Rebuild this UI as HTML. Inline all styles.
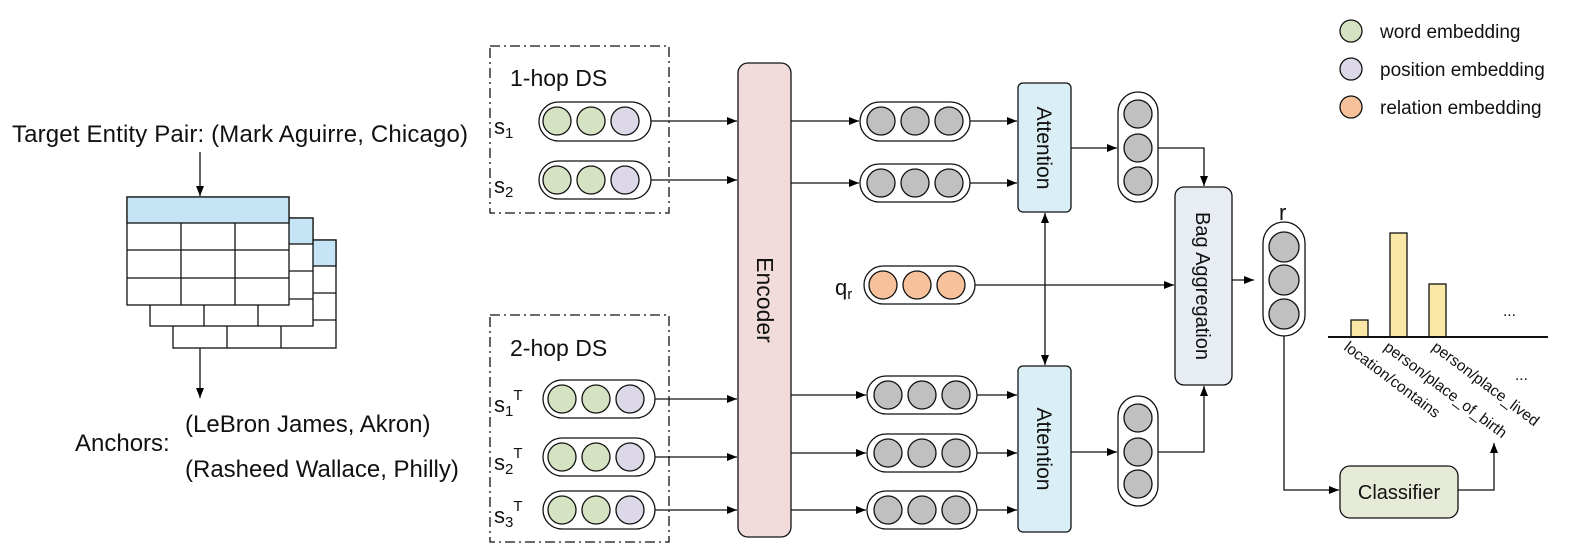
<!DOCTYPE html>
<html><head><meta charset="utf-8"><style>body{margin:0;background:#fff}svg{display:block}text{font-family:"Liberation Sans",sans-serif;fill:#111}</style></head><body>
<svg width="1578" height="554" viewBox="0 0 1578 554" xmlns="http://www.w3.org/2000/svg">
<defs><marker id="a" markerWidth="10" markerHeight="8" refX="10" refY="4" orient="auto" markerUnits="userSpaceOnUse"><path d="M0,0L10,4L0,8z" fill="#000"/></marker>
<marker id="b" markerWidth="10" markerHeight="8" refX="10" refY="4" orient="auto-start-reverse" markerUnits="userSpaceOnUse"><path d="M0,0L10,4L0,8z" fill="#000"/></marker></defs>
<g stroke="#111" stroke-width="1.3" fill="none">
<line x1="200" y1="152" x2="200" y2="196" marker-end="url(#a)"/>
<rect x="173" y="240" width="163" height="108" fill="#fff"/><rect x="173" y="240" width="163" height="26" fill="#c5e4f5"/>
<path d="M173,293H336M173,320H336M227,320V348M281,320V348"/>
<rect x="150" y="218" width="163" height="108" fill="#fff"/><rect x="150" y="218" width="163" height="26" fill="#c5e4f5"/>
<path d="M150,271H313M150,299H313M204,299V326M258,299V326"/>
<rect x="127" y="197" width="162" height="108" fill="#fff"/><rect x="127" y="197" width="162" height="26" fill="#c5e4f5"/>
<path d="M127,250H289M127,278H289M181,223V305M235,223V305"/>
<line x1="200" y1="348" x2="200" y2="398" marker-end="url(#a)"/>
<rect x="490" y="46" width="179" height="167" stroke-dasharray="10,4,2,4"/>
<rect x="490" y="315" width="179" height="227" stroke-dasharray="10,4,2,4"/>
<rect x="738" y="63" width="53" height="474" rx="10" fill="#f2dcdb"/>
<line x1="651" y1="121" x2="737" y2="121" marker-end="url(#a)"/>
<line x1="651" y1="180" x2="737" y2="180" marker-end="url(#a)"/>
<line x1="655" y1="399" x2="737" y2="399" marker-end="url(#a)"/>
<line x1="655" y1="457" x2="737" y2="457" marker-end="url(#a)"/>
<line x1="655" y1="510" x2="737" y2="510" marker-end="url(#a)"/>
<line x1="791" y1="121" x2="859" y2="121" marker-end="url(#a)"/>
<line x1="791" y1="183" x2="859" y2="183" marker-end="url(#a)"/>
<line x1="791" y1="395" x2="866" y2="395" marker-end="url(#a)"/>
<line x1="791" y1="453" x2="866" y2="453" marker-end="url(#a)"/>
<line x1="791" y1="510" x2="866" y2="510" marker-end="url(#a)"/>
<line x1="970" y1="121" x2="1017" y2="121" marker-end="url(#a)"/>
<line x1="970" y1="183" x2="1017" y2="183" marker-end="url(#a)"/>
<line x1="977" y1="395" x2="1017" y2="395" marker-end="url(#a)"/>
<line x1="977" y1="453" x2="1017" y2="453" marker-end="url(#a)"/>
<line x1="977" y1="510" x2="1017" y2="510" marker-end="url(#a)"/>
<rect x="1018" y="83" width="53" height="129" rx="5" fill="#daeef5"/>
<rect x="1018" y="366" width="53" height="166" rx="5" fill="#daeef5"/>
<line x1="1045" y1="213" x2="1045" y2="365" marker-start="url(#b)" marker-end="url(#b)"/>
<line x1="975" y1="285" x2="1174" y2="285" marker-end="url(#a)"/>
<line x1="1071" y1="148" x2="1117" y2="148" marker-end="url(#a)"/>
<line x1="1071" y1="452" x2="1117" y2="452" marker-end="url(#a)"/>
<path d="M1158,148H1204V186" marker-end="url(#a)"/>
<path d="M1158,452H1204V386" marker-end="url(#a)"/>
<rect x="1175" y="187" width="57" height="198" rx="9" fill="#e8edf4"/>
<line x1="1232" y1="280" x2="1254" y2="280" marker-end="url(#a)"/>
<path d="M1284,336V490H1339" marker-end="url(#a)"/>
<rect x="1340" y="466" width="118" height="52" rx="10" fill="#e5ebd7"/>
<path d="M1458,490H1494V443" marker-end="url(#a)"/>
<rect x="1351" y="320" width="17" height="17" fill="#fbe8a6"/>
<rect x="1390" y="233" width="17" height="104" fill="#fbe8a6"/>
<rect x="1429" y="284" width="17" height="53" fill="#fbe8a6"/>
<line x1="1328" y1="337" x2="1548" y2="337" stroke-width="2"/>
<rect x="539" y="102" width="112" height="39" rx="19.5" fill="#fff"/>
<rect x="539" y="161" width="112" height="38" rx="19" fill="#fff"/>
<rect x="543" y="380" width="112" height="38" rx="19" fill="#fff"/>
<rect x="543" y="438" width="112" height="38" rx="19" fill="#fff"/>
<rect x="543" y="491" width="112" height="38" rx="19" fill="#fff"/>
<rect x="860" y="102" width="110" height="39" rx="19.5" fill="#fff"/>
<rect x="860" y="164" width="110" height="38" rx="19" fill="#fff"/>
<rect x="864" y="266" width="111" height="38" rx="19" fill="#fff"/>
<rect x="867" y="376" width="110" height="38" rx="19" fill="#fff"/>
<rect x="867" y="434" width="110" height="38" rx="19" fill="#fff"/>
<rect x="867" y="491" width="110" height="38" rx="19" fill="#fff"/>
<rect x="1118" y="92" width="40" height="110" rx="20" fill="#fff"/>
<rect x="1118" y="396" width="40" height="110" rx="20" fill="#fff"/>
<rect x="1263" y="222" width="42" height="114" rx="21" fill="#fff"/>
<g fill="#d5e3c2">
<circle cx="557" cy="121" r="14"/><circle cx="591" cy="121" r="14"/>
<circle cx="557" cy="180" r="14"/><circle cx="591" cy="180" r="14"/>
<circle cx="562" cy="399" r="14"/><circle cx="596" cy="399" r="14"/>
<circle cx="562" cy="457" r="14"/><circle cx="596" cy="457" r="14"/>
<circle cx="562" cy="510" r="14"/><circle cx="596" cy="510" r="14"/>
<circle cx="1351" cy="31" r="11"/></g>
<g fill="#ddd8e8">
<circle cx="625" cy="121" r="14"/><circle cx="625" cy="180" r="14"/>
<circle cx="630" cy="399" r="14"/><circle cx="630" cy="457" r="14"/><circle cx="630" cy="510" r="14"/>
<circle cx="1351" cy="69" r="11"/></g>
<g fill="#f7c29b"><circle cx="883" cy="285" r="14"/><circle cx="917" cy="285" r="14"/><circle cx="951" cy="285" r="14"/><circle cx="1351" cy="107" r="11"/></g>
<g fill="#c0c0c0">
<circle cx="881" cy="121" r="14"/><circle cx="915" cy="121" r="14"/><circle cx="949" cy="121" r="14"/>
<circle cx="881" cy="183" r="14"/><circle cx="915" cy="183" r="14"/><circle cx="949" cy="183" r="14"/>
<circle cx="888" cy="395" r="14"/><circle cx="922" cy="395" r="14"/><circle cx="956" cy="395" r="14"/>
<circle cx="888" cy="453" r="14"/><circle cx="922" cy="453" r="14"/><circle cx="956" cy="453" r="14"/>
<circle cx="888" cy="510" r="14"/><circle cx="922" cy="510" r="14"/><circle cx="956" cy="510" r="14"/>
<circle cx="1138" cy="114" r="14"/><circle cx="1138" cy="148" r="14"/><circle cx="1138" cy="181" r="14"/>
<circle cx="1138" cy="418" r="14"/><circle cx="1138" cy="452" r="14"/><circle cx="1138" cy="484" r="14"/>
<circle cx="1284" cy="247" r="15"/><circle cx="1284" cy="280" r="15"/><circle cx="1284" cy="314" r="15"/>
</g>
</g>
<text x="12" y="142" font-size="24" textLength="456">Target Entity Pair:  (Mark Aguirre, Chicago)</text>
<text x="75" y="451" font-size="24">Anchors:</text>
<text x="185" y="432" font-size="24">(LeBron James, Akron)</text>
<text x="185" y="477" font-size="24">(Rasheed Wallace, Philly)</text>
<text x="510" y="86" font-size="23">1-hop DS</text>
<text x="510" y="356" font-size="23">2-hop DS</text>
<g font-size="22">
<text x="494" y="134">s<tspan font-size="15" dy="4">1</tspan></text>
<text x="494" y="193">s<tspan font-size="15" dy="4">2</tspan></text>
<text x="494" y="412">s<tspan font-size="15" dy="4">1</tspan><tspan font-size="15" dy="-16">T</tspan></text>
<text x="494" y="470">s<tspan font-size="15" dy="4">2</tspan><tspan font-size="15" dy="-16">T</tspan></text>
<text x="494" y="523">s<tspan font-size="15" dy="4">3</tspan><tspan font-size="15" dy="-16">T</tspan></text>
<text x="835" y="295">q<tspan font-size="15" dy="4">r</tspan></text>
<text x="1279" y="220">r</text>
</g>
<text transform="translate(757,300) rotate(90)" font-size="23" text-anchor="middle">Encoder</text>
<text transform="translate(1037,148) rotate(90)" font-size="21" text-anchor="middle">Attention</text>
<text transform="translate(1037,449) rotate(90)" font-size="21" text-anchor="middle">Attention</text>
<text transform="translate(1196,286) rotate(90)" font-size="20" text-anchor="middle">Bag Aggregation</text>
<text x="1399" y="499" font-size="20" text-anchor="middle">Classifier</text>
<g font-size="19"><text x="1380" y="38">word embedding</text><text x="1380" y="76">position embedding</text><text x="1380" y="114">relation embedding</text></g>
<g font-size="15.5">
<text transform="translate(1343,349) rotate(37)">location/contains</text>
<text transform="translate(1383,349) rotate(37)">person/place_of_birth</text>
<text transform="translate(1431,349) rotate(37)">person/place_lived</text>
<text x="1503" y="316">...</text><text x="1515" y="380">...</text>
</g>
</svg>
</body></html>
